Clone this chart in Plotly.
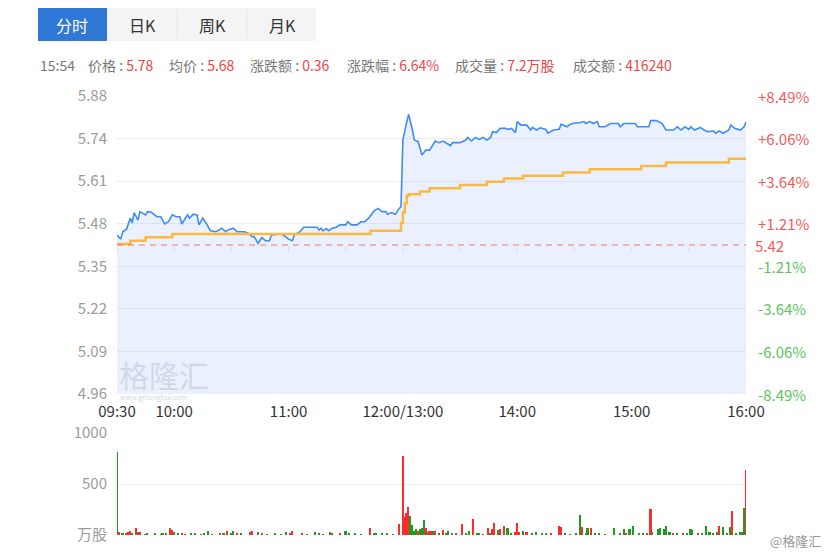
import plotly.graph_objects as go

# ---------------- data ----------------
prev_close = 5.42
price_lo, price_hi = 4.96, 5.88
left_tick_text = ["4.96", "5.09", "5.22", "5.35", "5.48", "5.61", "5.74", "5.88"]
right_tick_text = ["-8.49%", "-6.06%", "-3.64%", "-1.21%", "+1.21%", "+3.64%", "+6.06%", "+8.49%"]

x_tick_minutes = [0, 30, 90, 150, 210, 270, 330]
x_tick_labels = ["09:30", "10:00", "11:00", "12:00/13:00", "14:00", "15:00", "16:00"]
minor_tick_minutes = [0, 30, 60, 90, 120, 150, 180, 210, 240, 270, 300, 330]

# trading minutes since 09:30 (lunch break removed)
price_minutes = [0, 2, 3, 5, 7, 8, 9, 11, 12, 15, 16, 18, 21, 23, 25, 27, 29, 31, 33, 34,
                 37, 38, 40, 42, 43, 45, 47, 49, 52, 55, 57, 58, 61, 63, 67, 69, 71, 72, 74, 76,
                 78, 80, 81, 84, 86, 88, 90, 92, 93, 96, 98, 105, 106, 107, 108, 110, 111, 113, 115, 117,
                 120, 121, 123, 126, 128, 130, 132, 134, 135, 137, 139, 141, 142, 144, 146, 147, 148, 149, 150, 152,
                 153, 155, 156, 158, 160, 162, 164, 167, 169, 171, 175, 176, 180, 183, 184, 186, 188, 190, 192, 194,
                 196, 197, 199, 201, 204, 205, 207, 209, 210, 212, 215, 217, 218, 220, 222, 225, 226, 229, 232, 233,
                 236, 238, 239, 243, 245, 246, 248, 250, 252, 253, 256, 259, 263, 264, 266, 272, 273, 279, 280, 283,
                 286, 288, 292, 294, 296, 298, 300, 301, 303, 306, 308, 310, 313, 314, 316, 318, 321, 322, 324, 327,
                 329, 330]
price_values = [5.451, 5.438, 5.461, 5.469, 5.503, 5.488, 5.520, 5.497, 5.523, 5.513, 5.523, 5.521, 5.507, 5.507, 5.485, 5.492, 5.513, 5.507, 5.507, 5.485,
                5.513, 5.503, 5.515, 5.513, 5.482, 5.503, 5.485, 5.464, 5.461, 5.472, 5.461, 5.466, 5.472, 5.461, 5.461, 5.456, 5.446, 5.446, 5.425, 5.443,
                5.433, 5.433, 5.451, 5.454, 5.454, 5.448, 5.438, 5.433, 5.451, 5.461, 5.475, 5.475, 5.466, 5.472, 5.464, 5.470, 5.464, 5.472, 5.475, 5.482,
                5.482, 5.492, 5.482, 5.482, 5.492, 5.492, 5.503, 5.518, 5.526, 5.533, 5.523, 5.523, 5.515, 5.520, 5.515, 5.523, 5.533, 5.538, 5.745, 5.800,
                5.823, 5.775, 5.744, 5.739, 5.698, 5.713, 5.713, 5.741, 5.736, 5.741, 5.727, 5.736, 5.736, 5.744, 5.752, 5.741, 5.752, 5.746, 5.752, 5.744,
                5.752, 5.770, 5.767, 5.780, 5.780, 5.777, 5.780, 5.767, 5.801, 5.790, 5.790, 5.775, 5.783, 5.775, 5.782, 5.777, 5.765, 5.775, 5.777, 5.793,
                5.785, 5.793, 5.795, 5.798, 5.801, 5.795, 5.801, 5.795, 5.801, 5.785, 5.785, 5.795, 5.795, 5.785, 5.795, 5.795, 5.785, 5.785, 5.804, 5.804,
                5.795, 5.775, 5.775, 5.785, 5.775, 5.785, 5.777, 5.785, 5.775, 5.783, 5.775, 5.770, 5.772, 5.765, 5.772, 5.765, 5.775, 5.790, 5.780, 5.775,
                5.785, 5.800]

avg_minutes = [0, 7, 15, 29, 133, 149, 150, 151, 152, 153, 159, 164, 180, 194, 203, 213, 234, 248, 275, 288, 321, 330]
avg_values = [5.423, 5.433, 5.444, 5.454, 5.464, 5.488, 5.520, 5.549, 5.572, 5.577, 5.585, 5.595, 5.605, 5.615, 5.625, 5.634, 5.644, 5.654, 5.664, 5.675, 5.686, 5.686]

# volume (万股) per minute; direction 1 = up (red), -1 = down (green)
vol_minutes = [0, 1, 3, 5, 6, 7, 8, 10, 11, 12, 15, 16, 20, 23, 24, 26, 28, 29, 30, 32,
               34, 36, 39, 41, 44, 46, 48, 50, 54, 56, 58, 60, 61, 63, 65, 70, 71, 74, 76, 79,
               83, 86, 89, 91, 92, 97, 100, 104, 106, 108, 112, 113, 117, 120, 122, 125, 128, 133, 135, 136,
               139, 142, 145, 148, 150, 151, 152, 153, 154, 155, 156, 157, 158, 159, 160, 161, 162, 163, 164, 165,
               166, 167, 169, 171, 173, 174, 176, 178, 181, 183, 185, 187, 189, 190, 192, 195, 196, 197, 198, 200,
               201, 203, 205, 207, 209, 210, 211, 213, 215, 218, 220, 223, 225, 228, 232, 233, 235, 238, 241, 243,
               244, 246, 247, 249, 251, 253, 256, 261, 264, 266, 267, 269, 271, 274, 276, 278, 280, 281, 284, 285,
               287, 288, 290, 292, 294, 297, 299, 301, 302, 305, 307, 309, 311, 313, 315, 316, 318, 320, 322, 323,
               325, 327, 328, 329, 330]
vol_values = [811, 25, 10, 20, 25, 35, 10, 65, 25, 30, 8, 12, 20, 8, 20, 10, 70, 45, 30, 15,
              10, 8, 20, 10, 8, 15, 35, 8, 15, 10, 35, 15, 35, 20, 10, 30, 35, 25, 10, 8,
              10, 8, 30, 10, 35, 15, 8, 25, 15, 8, 25, 10, 15, 35, 10, 15, 8, 70, 15, 20,
              15, 10, 8, 105, 777, 180, 212, 278, 190, 100, 40, 55, 40, 55, 65, 147, 70, 30, 35, 40,
              35, 40, 20, 45, 20, 40, 15, 10, 105, 15, 40, 160, 15, 10, 8, 65, 20, 55, 115, 45,
              60, 85, 70, 20, 25, 115, 25, 40, 25, 15, 25, 10, 20, 10, 85, 75, 15, 8, 20, 200,
              80, 20, 65, 65, 15, 12, 8, 70, 15, 55, 20, 60, 85, 20, 10, 10, 252, 30, 60, 65,
              60, 90, 30, 15, 15, 10, 15, 55, 50, 15, 15, 85, 25, 20, 25, 85, 80, 20, 80, 235,
              20, 25, 25, 261, 637]
vol_dir = [-1, 1, -1, 1, 1, 1, -1, 1, -1, 1, -1, -1, -1, 1, -1, -1, 1, 1, -1, -1,
           1, 1, -1, -1, 1, -1, -1, -1, 1, -1, 1, -1, -1, 1, -1, 1, 1, -1, 1, -1,
           -1, -1, -1, 1, 1, 1, -1, -1, -1, 1, -1, 1, 1, -1, -1, -1, -1, 1, -1, -1,
           -1, -1, -1, 1, 1, 1, 1, 1, -1, -1, -1, -1, 1, -1, -1, -1, 1, -1, 1, 1,
           -1, 1, -1, 1, -1, -1, -1, 1, 1, -1, -1, 1, -1, -1, 1, 1, -1, 1, 1, -1,
           1, 1, -1, -1, 1, 1, 1, -1, 1, -1, -1, -1, -1, 1, 1, 1, -1, 1, -1, -1,
           1, -1, -1, 1, -1, -1, 1, -1, -1, -1, 1, -1, -1, -1, -1, 1, 1, -1, -1, -1,
           -1, -1, -1, 1, -1, 1, -1, -1, -1, 1, -1, -1, -1, -1, -1, 1, -1, -1, -1, 1,
           -1, -1, -1, -1, 1]
vol_tick_vals = [0, 500, 1000]
vol_tick_text = ["万股", "500", "1000"]

info_items = [("15:54", None), ("价格 : ", "5.78"), ("均价 : ", "5.68"), ("涨跌额 : ", "0.36"),
              ("涨跌幅 : ", "6.64%"), ("成交量 : ", "7.2万股"), ("成交额 : ", "416240")]
info_x_px = [38, 86, 167, 248, 345, 453, 571]

tabs = ["分时", "日K", "周K", "月K"]

# ---------------- styling constants ----------------
W, H = 831, 554
OFF = 8  # page body margin: figure is drawn 8px right/down of the window origin
FONT = "Noto Sans CJK SC"
BLUE = "#3f8cf3"
YELLOW = "#f9b943"
RED = "#ff2b2b"
GREEN = "#1f9a22"
LBL = "#9b9b9b"

def px_x(v):
    return (v - OFF) / W

def px_y(v):
    return 1 - (v - OFF) / H

x_dom = [px_x(117), px_x(746)]
price_dom = [px_y(394), px_y(96)]
vol_dom = [px_y(535), px_y(433)]

n_int = len(left_tick_text) - 1
tick_vals = [price_lo + k * (price_hi - price_lo) / n_int for k in range(n_int + 1)]

fig = go.Figure()

fig.add_trace(go.Scatter(
    x=price_minutes, y=price_values, mode="lines",
    line=dict(color=BLUE, width=1.6), fill="tozeroy",
    fillcolor="rgba(70,125,235,0.115)", hoverinfo="skip", xaxis="x", yaxis="y"))
fig.add_trace(go.Scatter(
    x=avg_minutes, y=avg_values, mode="lines", line=dict(color=YELLOW, width=2.5, shape="hv"),
    hoverinfo="skip", xaxis="x", yaxis="y"))

bar_colors = [RED if d > 0 else GREEN for d in vol_dir]
fig.add_trace(go.Bar(
    x=vol_minutes, y=vol_values, marker=dict(color=bar_colors, line=dict(width=0)),
    width=0.85, hoverinfo="skip", xaxis="x2", yaxis="y2"))

shapes = [dict(type="line", xref="x", yref="y", x0=0, x1=330, y0=prev_close, y1=prev_close,
               line=dict(color="rgba(240,100,100,0.85)", width=1.2, dash="6px,5px"))]
for m in minor_tick_minutes:
    shapes.append(dict(type="line", xref="x", yref="y", x0=m, x1=m, y0=prev_close - 0.006,
                       y1=prev_close - 0.02, line=dict(color="#dddddd", width=1)))

# tabs
shapes.append(dict(type="rect", xref="paper", yref="paper", x0=px_x(107), x1=px_x(316),
                   y0=px_y(41), y1=px_y(8), fillcolor="#f4f4f4", line=dict(width=0), layer="below"))
shapes.append(dict(type="rect", xref="paper", yref="paper", x0=px_x(38), x1=px_x(107),
                   y0=px_y(41), y1=px_y(8), fillcolor="#2f78d6", line=dict(width=0)))
for sx in [177, 247]:
    shapes.append(dict(type="line", xref="paper", yref="paper", x0=px_x(sx), x1=px_x(sx),
                       y0=px_y(39), y1=px_y(10), line=dict(color="#e6e6e6", width=1)))

ann = []
tab_cx = [72, 142, 212, 282]
for t, cx in zip(tabs, tab_cx):
    ann.append(dict(x=px_x(cx), y=px_y(25), xref="paper", yref="paper", text=t, showarrow=False,
                    font=dict(family=FONT, size=16, color="white" if t == "分时" else "#333333"),
                    xanchor="center", yanchor="middle"))

for (lab, val), xp in zip(info_items, info_x_px):
    txt = lab if val is None else f"{lab}<span style='color:#f04545'>{val}</span>"
    ann.append(dict(x=px_x(xp), y=px_y(65), xref="paper", yref="paper", text=txt, showarrow=False,
                    font=dict(family=FONT, size=14, color="#777777"), xanchor="left", yanchor="middle"))

for v, t in zip(tick_vals, right_tick_text):
    col = "#f25c5c" if t.startswith("+") else "#5cc45c"
    ann.append(dict(x=px_x(756), y=v, xref="paper", yref="y", text=t, showarrow=False,
                    font=dict(family=FONT, size=15, color=col), xanchor="left", yanchor="middle"))
ann.append(dict(x=px_x(753), y=prev_close, xref="paper", yref="y", text=f"{prev_close:.2f}",
                showarrow=False, font=dict(family=FONT, size=15, color="#f25c5c"),
                xanchor="left", yanchor="middle"))

# watermarks
ann.append(dict(x=px_x(117), y=px_y(374), xref="paper", yref="paper", text="格隆汇", showarrow=False,
                font=dict(family=FONT, size=30, color="rgba(185,192,205,0.5)"),
                xanchor="left", yanchor="middle"))
ann.append(dict(x=px_x(118), y=px_y(397), xref="paper", yref="paper", text="www.gelonghui.com",
                showarrow=False, font=dict(family=FONT, size=7, color="rgba(190,196,208,0.7)"),
                xanchor="left", yanchor="middle"))
ann.append(dict(x=px_x(823), y=px_y(540), xref="paper", yref="paper", text="@格隆汇", showarrow=False,
                font=dict(family=FONT, size=13, color="#999999"), xanchor="right", yanchor="middle"))

fig.update_layout(
    width=W, height=H, margin=dict(l=0, r=0, t=0, b=0, pad=0, autoexpand=False),
    paper_bgcolor="white", plot_bgcolor="white", showlegend=False, bargap=0,
    font=dict(family=FONT, size=14, color=LBL),
    shapes=shapes, annotations=ann,
    xaxis=dict(domain=x_dom, range=[0, 330], tickvals=x_tick_minutes, ticktext=x_tick_labels,
               showgrid=False, zeroline=False, showline=False, ticks="", automargin=False,
               ticklabelstandoff=7,
               tickfont=dict(family=FONT, size=15, color="#333333"), anchor="y"),
    yaxis=dict(domain=price_dom, range=[price_lo, price_hi], tickvals=tick_vals, ticktext=left_tick_text,
               showgrid=True, gridcolor="#eeeeee", gridwidth=1, zeroline=False, showline=False,
               ticks="", ticklabelstandoff=9, automargin=False,
               tickfont=dict(family=FONT, size=15, color=LBL), anchor="x"),
    xaxis2=dict(domain=x_dom, range=[0, 330], matches="x", showticklabels=False, showgrid=False,
                zeroline=False, showline=False, ticks="", automargin=False, anchor="y2"),
    yaxis2=dict(domain=vol_dom, range=[0, 1000], tickvals=vol_tick_vals, ticktext=vol_tick_text,
                showgrid=True, gridcolor="#f0f0f0", zeroline=False, showline=False, ticks="",
                ticklabelstandoff=9, automargin=False,
                tickfont=dict(family=FONT, size=15, color=LBL), anchor="x2"),
)

fig.write_html("out.html")
